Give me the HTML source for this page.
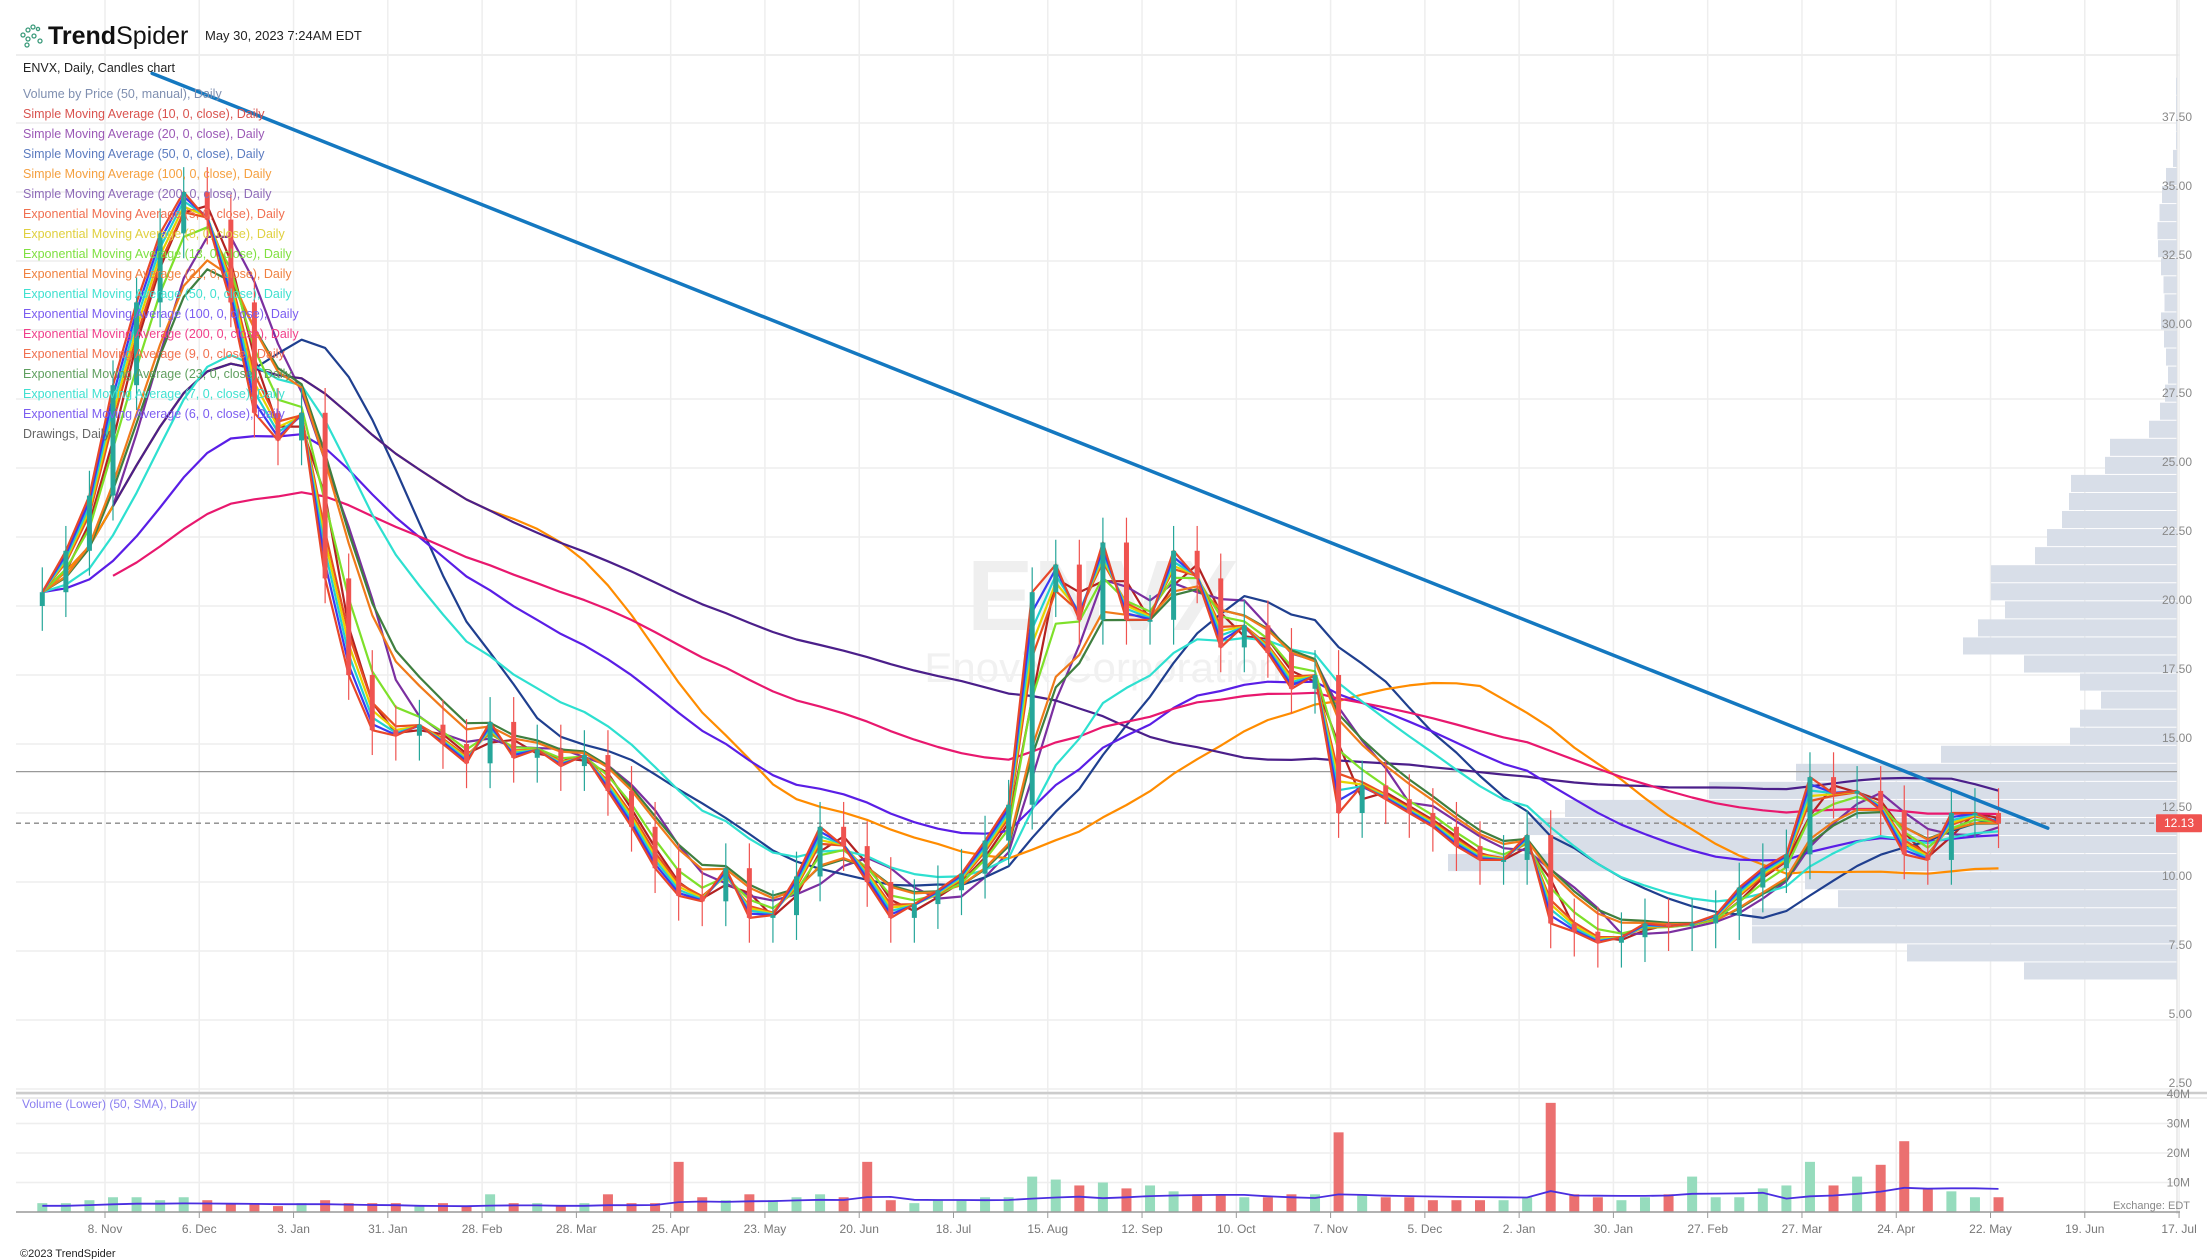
<!DOCTYPE html>
<html><head><meta charset="utf-8"><style>
html,body{margin:0;padding:0;background:#fff;}
svg{display:block;font-family:"Liberation Sans",sans-serif;}
</style></head><body>
<svg id="chart" width="2207" height="1259" viewBox="0 0 2207 1259" xmlns="http://www.w3.org/2000/svg">
<rect x="0" y="0" width="2207" height="1259" fill="#fff"/>
<g id="grid"></g>
<g id="watermark">
<text x="1103" y="630" font-size="100" font-weight="bold" fill="#efefef" text-anchor="middle">ENVX</text>
<text x="1103" y="682" font-size="42" fill="#f1f1f1" text-anchor="middle">Enovix Corporation</text>
</g>
<g id="vbp"></g>
<g id="refs"></g>
<g id="mas"></g>
<g id="candles"></g>
<g id="trend"></g>
<g id="vol"></g>
<g id="axes"></g>
<g id="header">
<g fill="none" stroke="#3a9a7a" stroke-width="1.3">
<circle cx="23" cy="35" r="2"/><circle cx="28" cy="30" r="2"/><circle cx="33" cy="27" r="2"/><circle cx="28" cy="39" r="2"/><circle cx="34" cy="36" r="2"/><circle cx="40" cy="41" r="2"/><circle cx="27" cy="45" r="2"/><circle cx="38" cy="29" r="1.6"/>
</g>
<text x="48" y="44" font-size="25" fill="#111"><tspan font-weight="bold">Trend</tspan><tspan>Spider</tspan></text>
<text x="205" y="40" font-size="13" fill="#222">May 30, 2023 7:24AM EDT</text>
</g>
<g id="legend"></g>
<text x="20" y="1257" font-size="11" fill="#222">©2023 TrendSpider</text>
</svg>
<script>
// ---- data ----
const weekStarts = ["2021-10-18","2021-10-25","2021-11-01","2021-11-08","2021-11-15","2021-11-22","2021-11-29","2021-12-06","2021-12-13","2021-12-20","2021-12-27",
"2022-01-03","2022-01-10","2022-01-17","2022-01-24","2022-01-31","2022-02-07","2022-02-14","2022-02-21","2022-02-28","2022-03-07","2022-03-14","2022-03-21","2022-03-28","2022-04-04","2022-04-11","2022-04-18","2022-04-25","2022-05-02","2022-05-09","2022-05-16","2022-05-23","2022-05-30","2022-06-06","2022-06-13","2022-06-20","2022-06-27","2022-07-04","2022-07-11","2022-07-18","2022-07-25","2022-08-01","2022-08-08","2022-08-15","2022-08-22","2022-08-29","2022-09-05","2022-09-12","2022-09-19","2022-09-26","2022-10-03","2022-10-10","2022-10-17","2022-10-24","2022-10-31","2022-11-07","2022-11-14","2022-11-21","2022-11-28","2022-12-05","2022-12-12","2022-12-19","2022-12-26",
"2023-01-02","2023-01-09","2023-01-16","2023-01-23","2023-01-30","2023-02-06","2023-02-13","2023-02-20","2023-02-27","2023-03-06","2023-03-13","2023-03-20","2023-03-27","2023-04-03","2023-04-10","2023-04-17","2023-04-24","2023-05-01","2023-05-08","2023-05-15","2023-05-22"];
const closes = [20.5,22,24,28,31,33.5,35,34,31,27,26,
27,21,17.5,15.5,15.3,15.7,15,14.3,15.8,14.5,14.8,14.2,14.6,13.3,12,10.5,9.5,9.3,10.5,8.7,8.8,10.2,12,11.3,10,8.7,9.2,9.7,10.3,11.5,12.8,20.5,21.5,19.5,22.3,19.5,19.5,22,21,18.5,19.3,18.3,17,17.5,12.5,13.5,13,12.5,12,11.3,10.8,10.8,
11.7,8.5,8.2,7.8,8,8.5,8.4,8.5,8.8,9.8,10.5,11,13.8,13.2,13.3,12.6,11,10.8,12.5,12.5,12.13];
const volumes = [3,3,4,5,5,4,5,4,3,3,2,
3,4,3,3,3,2,3,2,6,3,3,2,3,6,3,3,17,5,4,6,4,5,6,5,17,4,3,4,4,5,5,12,11,9,10,8,9,7,6,6,5,5,6,6,27,6,5,5,4,4,4,4,
5,37,6,5,4,5,6,12,5,5,8,9,17,9,12,16,24,8,7,5,5];
const priceTicks = [2.5,5,7.5,10,12.5,15,17.5,20,22.5,25,27.5,30,32.5,35,37.5];
const volTicks = [10,20,30,40];
const dateTickLabels = ["8. Nov","6. Dec","3. Jan","31. Jan","28. Feb","28. Mar","25. Apr","23. May","20. Jun","18. Jul","15. Aug","12. Sep","10. Oct","7. Nov","5. Dec","2. Jan","30. Jan","27. Feb","27. Mar","24. Apr","22. May","19. Jun","17. Jul"];
const dateTickDates = ["2021-11-08","2021-12-06","2022-01-03","2022-01-31","2022-02-28","2022-03-28","2022-04-25","2022-05-23","2022-06-20","2022-07-18","2022-08-15","2022-09-12","2022-10-10","2022-11-07","2022-12-05","2023-01-02","2023-01-30","2023-02-27","2023-03-27","2023-04-24","2023-05-22","2023-06-19","2023-07-17"];
const vbpVolumes = [1,1,1,1,4,11,15,17.5,19.5,19,16,13.5,12.5,16,13,11,9,12,17,28,67,72,106,108,115,130,142,186,186,172,199,214,153,97,76,97,107,236,381,468,612,650,625,729,372,339,425,425,270,153];
const vbpTop = 39.16, vbpBottom = 6.45;
const trendStart = {date:"2021-11-22", price:39.3};
const trendEnd = {date:"2023-06-08", price:11.95};
const lastPrice = 12.13;
const hLinePrice = 14.0;

// ---- scales ----
const NS="http://www.w3.org/2000/svg";
const D0 = Date.parse("2021-11-08");
function xOfDate(s){return 105 + (Date.parse(s)-D0)/86400000*3.367;}
function yP(p){return 123 + (37.5-p)*27.6;}
const VOL0=1212;
function yV(v){return VOL0 - v*2.95;}
function mk(tag, attrs, parent){const e=document.createElementNS(NS,tag);for(const k in attrs)e.setAttribute(k,attrs[k]);parent.appendChild(e);return e;}
const g = id=>document.getElementById(id);

// grid
const grid=g('grid');
mk('line',{x1:16,y1:55,x2:2180,y2:55,stroke:'#e8e8e8','stroke-width':1.5},grid);
priceTicks.forEach(p=>{const l=mk('line',{x1:16,y1:yP(p),x2:2177,y2:yP(p),stroke:'#eeeeee','stroke-width':1.5},grid);

});
volTicks.forEach(v=>{const l=mk('line',{x1:16,y1:yV(v),x2:2177,y2:yV(v),stroke:'#eeeeee','stroke-width':1.5},grid);

});
dateTickDates.forEach(d=>{const x=xOfDate(d);const l=mk('line',{x1:x,y1:0,x2:x,y2:1212,stroke:'#eeeeee','stroke-width':1.5},grid);

});
mk('line',{x1:2177,y1:0,x2:2177,y2:1214,stroke:'#e6e6e6','stroke-width':1.5},grid);
mk('line',{x1:16,y1:1093,x2:2207,y2:1093,stroke:'#cccccc','stroke-width':2.5},grid);
mk('line',{x1:16,y1:1098,x2:2207,y2:1098,stroke:'#e5e5e5','stroke-width':1.5},grid);

// volume by price
const vbp=g('vbp');
const binH=(yP(vbpBottom)-yP(vbpTop))/vbpVolumes.length;
vbpVolumes.forEach((v,i)=>{const y=yP(vbpTop)+i*binH;
const r=mk('rect',{x:2177-v,y:y+0.5,width:v,height:binH-1,fill:'#d8dee8'},vbp);

});

// reference lines
const refs=g('refs');
const hl=mk('line',{x1:16,y1:yP(hLinePrice),x2:2177,y2:yP(hLinePrice),stroke:'#999','stroke-width':1.3},refs);


const dl=mk('line',{x1:16,y1:yP(lastPrice),x2:2160,y2:yP(lastPrice),stroke:'#888','stroke-width':1.3,'stroke-dasharray':'5,4'},refs);



// candle x
const xs = weekStarts.map(d=>xOfDate(d)+8);

// moving averages
function ema(arr,p){const a=2/(p+1);const out=[];let e=arr[0];arr.forEach((v,i)=>{e=i?a*v+(1-a)*e:v;out.push(e);});return out;}
function sma(arr,p){return arr.map((v,i)=>{const s=arr.slice(Math.max(0,i-p+1),i+1);return s.reduce((a,b)=>a+b,0)/s.length;});}
const maDefs=[
 ['sma',10,'#b22222','sma-10'],['sma',20,'#7b2fa0','sma-20'],['sma',50,'#1f3f8f','sma-50'],['sma',100,'#ff8c00','sma-100'],['sma',200,'#4b1f8a','sma-200'],
 ['ema',100,'#5a1ee6','ema-100'],['ema',200,'#e8186e','ema-200'],['ema',50,'#2ee0d0','ema-50'],['ema',23,'#3f7f3f','ema-23'],['ema',21,'#f07a1a','ema-21'],
 ['ema',13,'#7ee02a','ema-13'],['ema',9,'#e85020','ema-9'],['ema',8,'#e6d200','ema-8'],['ema',7,'#20d0d0','ema-7'],['ema',6,'#3a3af0','ema-6'],['ema',5,'#e8472a','ema-5']];
const mas=g('mas');
maDefs.forEach(([t,p,c,n])=>{const per=Math.max(1,p/5);const vals=t==='sma'?sma(closes,Math.round(per)):ema(closes,per);
let start=0; if(n==='sma-200'||n==='ema-200') start=3;
const d=vals.map((v,i)=>i<start?null:(i===start?'M':'L')+xs[i].toFixed(1)+','+yP(v).toFixed(1)).filter(Boolean).join(' ');
const pa=mk('path',{d:d,fill:'none',stroke:c,'stroke-width':2.2,'stroke-linejoin':'round'},mas);

});

// candles
const cg=g('candles');
closes.forEach((c,i)=>{const o=i?closes[i-1]:c-0.5;const up=c>=o;const col=up?'#26a69a':'#ef5350';
const hi=Math.max(o,c)+0.9,lo=Math.min(o,c)-0.9;
const w=mk('line',{x1:xs[i],y1:yP(hi),x2:xs[i],y2:yP(lo),stroke:col,'stroke-width':1.2},cg);


const top=yP(Math.max(o,c)),h=Math.max(2,yP(Math.min(o,c))-top);
const b=mk('rect',{x:xs[i]-2.5,y:top,width:5,height:h,fill:col},cg);

});

// trendline
const tr=g('trend');
const tl=mk('line',{x1:xOfDate(trendStart.date),y1:yP(trendStart.price),x2:xOfDate(trendEnd.date),y2:yP(trendEnd.price),stroke:'#1478c0','stroke-width':3.5,'stroke-linecap':'round'},tr);



// volume
const vg=g('vol');
volumes.forEach((v,i)=>{const o=i?closes[i-1]:closes[i];const up=closes[i]>=o;
const r=mk('rect',{x:xs[i]-5,y:yV(v),width:10,height:VOL0-yV(v),fill:up?'#96dcbd':'#eb7070'},vg);

});
const vs=sma(volumes,10);
const vp=mk('path',{d:vs.map((v,i)=>(i?'L':'M')+xs[i].toFixed(1)+','+yV(v*0.7).toFixed(1)).join(' '),fill:'none',stroke:'#4a2ee0','stroke-width':1.8},vg);


mk('line',{x1:16,y1:VOL0,x2:2180,y2:VOL0,stroke:'#999','stroke-width':1.5},vg);
const vt=mk('text',{x:22,y:1108,'font-size':12,fill:'#8a7ef0'},vg);vt.textContent='Volume (Lower) (50, SMA), Daily';



// axes labels
const ax=g('axes');
priceTicks.forEach(p=>{const t=mk('text',{x:2192,y:yP(p)-2,'font-size':12,fill:'#888','text-anchor':'end'},ax);t.textContent=p.toFixed(2);

});
volTicks.forEach(v=>{const t=mk('text',{x:2190,y:yV(v)+4,'font-size':12,fill:'#888','text-anchor':'end'},ax);t.textContent=v+'M';

});
const ex=mk('text',{x:2190,y:1209,'font-size':11,fill:'#888','text-anchor':'end'},ax);ex.textContent='Exchange: EDT';


dateTickLabels.forEach((s,i)=>{const x=xOfDate(dateTickDates[i]);
mk('line',{x1:x,y1:1212,x2:x,y2:1218,stroke:'#999','stroke-width':1},ax);
const t=mk('text',{x:x,y:1233,'font-size':12,fill:'#777','text-anchor':'middle'},ax);t.textContent=s;

});
const badge=mk('rect',{x:2156,y:yP(lastPrice)-9,width:46,height:18,fill:'#ef5350',rx:1},ax);


const bt=mk('text',{x:2179,y:yP(lastPrice)+4,'font-size':12,fill:'#fff','text-anchor':'middle'},ax);bt.textContent=lastPrice.toFixed(2);



// legend
const legendItems=[
['ENVX, Daily, Candles chart','#222'],['Volume by Price (50, manual), Daily','#7f8fb0'],
['Simple Moving Average (10, 0, close), Daily','#d9534f'],['Simple Moving Average (20, 0, close), Daily','#9b59b6'],
['Simple Moving Average (50, 0, close), Daily','#5b7bc0'],['Simple Moving Average (100, 0, close), Daily','#f5a040'],
['Simple Moving Average (200, 0, close), Daily','#8e6bb8'],['Exponential Moving Average (5, 0, close), Daily','#f07050'],
['Exponential Moving Average (8, 0, close), Daily','#e0d040'],['Exponential Moving Average (13, 0, close), Daily','#80e040'],
['Exponential Moving Average (21, 0, close), Daily','#f08040'],['Exponential Moving Average (50, 0, close), Daily','#40e0d0'],
['Exponential Moving Average (100, 0, close), Daily','#7b5cf0'],['Exponential Moving Average (200, 0, close), Daily','#f0408a'],
['Exponential Moving Average (9, 0, close), Daily','#f07050'],['Exponential Moving Average (23, 0, close), Daily','#5f9f5f'],
['Exponential Moving Average (7, 0, close), Daily','#40e0d0'],['Exponential Moving Average (6, 0, close), Daily','#7b5cf0'],
['Drawings, Daily','#666']];
const lg=g('legend');
legendItems.forEach(([s,c],i)=>{const y=i===0?72:98+(i-1)*20;
const t=mk('text',{x:23,y:y,'font-size':12.5,fill:c},lg);t.textContent=s;

});
</script>
</body></html>
